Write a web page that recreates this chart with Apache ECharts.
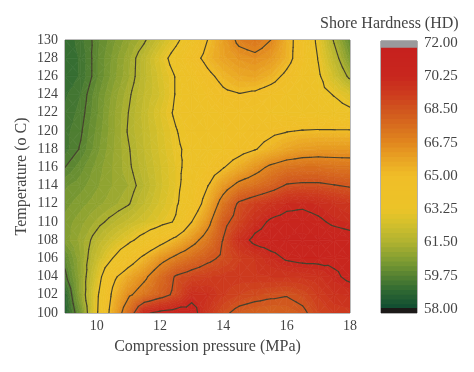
<!DOCTYPE html>
<html>
<head>
<meta charset="utf-8">
<title>Shore hardness contour</title>
<script src="https://cdn.jsdelivr.net/npm/echarts@6/dist/echarts.min.js"></script>
<style>
    html, body { margin: 0; background: #fff; }
    #chart { width: 474px; height: 372px; }
</style>
</head>
<body>
<div id="chart"></div>
<script>
    var pressures = [9, 9.5, 10, 10.5, 11, 11.5, 12, 12.5, 13, 13.5, 14, 14.5, 15, 15.5, 16, 16.5, 17, 17.5, 18];
    var temperatures = [130, 128, 126, 124, 122, 120, 118, 116, 114, 112, 110, 108, 106, 104, 102, 100];
    // hardness, one row per temperature, one column per pressure
    var hardness = [
        [59.0, 59.4, 59.9, 60.4, 60.9, 61.4, 62.2, 63.0, 64.0, 65.0, 66.0, 67.0, 67.3, 66.75, 65.5, 64.3, 63.0, 61.4, 60.0],
        [59.0, 59.3, 59.95, 60.55, 61.15, 61.9, 62.8, 63.7, 64.6, 65.3, 65.9, 66.3, 66.5, 66.2, 65.4, 64.35, 63.2, 61.9, 60.5],
        [59.0, 59.3, 59.95, 60.6, 61.2, 61.9, 62.6, 63.3, 64.0, 64.75, 65.3, 65.7, 65.8, 65.4, 64.75, 64.05, 63.4, 62.4, 61.3],
        [59.2, 59.5, 60.15, 60.8, 61.4, 62.0, 62.5, 63.3, 63.8, 64.3, 64.8, 64.95, 64.8, 64.5, 64.2, 63.9, 63.6, 63.2, 62.7],
        [59.3, 59.6, 60.2, 60.9, 61.5, 62.1, 62.75, 63.4, 63.8, 64.1, 64.3, 64.4, 64.3, 64.2, 64.1, 64.0, 63.9, 63.7, 63.5],
        [59.4, 59.7, 60.3, 60.9, 61.55, 62.05, 62.6, 63.2, 63.7, 64.0, 64.2, 64.4, 64.6, 64.8, 64.95, 65.05, 65.1, 65.1, 65.1],
        [59.4, 59.8, 60.4, 60.95, 61.45, 62.0, 62.55, 63.1, 63.5, 63.9, 64.25, 64.6, 64.95, 65.35, 65.8, 66.1, 66.2, 66.2, 66.2],
        [59.75, 60.15, 60.6, 61.0, 61.4, 61.9, 62.45, 63.0, 63.65, 64.3, 64.95, 65.6, 66.3, 67.0, 67.4, 67.5, 67.5, 67.4, 67.35],
        [60.2, 60.4, 60.7, 61.0, 61.25, 61.75, 62.4, 63.0, 63.85, 64.95, 66.2, 67.1, 67.5, 68.0, 68.6, 68.7, 68.7, 68.55, 68.4],
        [60.4, 60.65, 60.9, 61.15, 61.45, 62.0, 62.55, 63.1, 64.1, 65.55, 67.35, 68.7, 69.2, 69.6, 70.0, 70.1, 69.95, 69.7, 69.5],
        [60.6, 60.9, 61.3, 61.7, 62.1, 62.5, 62.9, 63.35, 65.0, 66.35, 68.2, 69.0, 69.85, 70.4, 70.6, 70.6, 70.4, 70.1, 69.95],
        [60.6, 61.1, 61.75, 62.4, 63.0, 63.7, 64.5, 65.35, 66.3, 67.3, 68.55, 69.8, 70.5, 70.7, 70.8, 70.85, 70.85, 70.75, 70.6],
        [59.95, 61.0, 62.15, 63.25, 64.3, 65.3, 66.3, 67.05, 67.65, 68.25, 68.7, 69.2, 69.5, 69.95, 70.35, 70.5, 70.5, 70.45, 70.5],
        [59.6, 60.95, 62.6, 64.7, 65.7, 66.5, 67.6, 68.6, 69.0, 69.2, 69.35, 69.4, 69.45, 69.5, 69.5, 69.55, 69.7, 70.1, 70.45],
        [58.9, 60.9, 63.0, 65.2, 66.55, 67.35, 68.05, 68.75, 69.9, 69.8, 69.3, 69.0, 68.8, 68.65, 68.55, 68.8, 69.3, 69.7, 69.8],
        [58.7, 60.35, 63.1, 65.55, 67.6, 70.1, 70.5, 70.7, 70.7, 69.5, 68.7, 68.2, 68.0, 67.95, 68.05, 68.3, 68.95, 69.3, 69.4]
    ];
    var xTicks = [10, 12, 14, 16, 18];
    var barTicks = [58, 59.75, 61.5, 63.25, 65, 66.75, 68.5, 70.25, 72];
    // contour lines sit on the colour bar labels between the two ends
    var lineLevels = [59.75, 61.5, 63.25, 65, 66.75, 68.5, 70.25];
    // colour ramp, value and rgb
    var rampValues = [58, 59, 59.75, 60.5, 61.5, 62.5, 63.25, 65, 66, 66.75, 67.6, 68.5, 69.3, 70.25, 72];
    var rampColors = [
        [15, 75, 50], [48, 106, 50], [85, 130, 50], [125, 155, 50], [175, 178, 48],
        [212, 192, 44], [236, 195, 40], [240, 190, 40], [232, 160, 35], [225, 135, 30],
        [216, 110, 30], [208, 85, 30], [205, 60, 30], [200, 38, 30], [198, 32, 30]
    ];
    var bandStep = 0.25;
    var barBelow = 57.79, barAbove = 72.105;

    var serif = '"Liberation Serif", serif';
    var textColor = '#444';

    function rampColor(v) {
        var i = 0;
        while (i < rampValues.length - 2 && v > rampValues[i + 1]) i++;
        var t = (v - rampValues[i]) / (rampValues[i + 1] - rampValues[i]);
        t = Math.max(0, Math.min(1, t));
        var a = rampColors[i], b = rampColors[i + 1];
        return 'rgb(' + Math.round(a[0] + (b[0] - a[0]) * t) + ',' +
            Math.round(a[1] + (b[1] - a[1]) * t) + ',' +
            Math.round(a[2] + (b[2] - a[2]) * t) + ')';
    }

    var bands = [];
    for (var b = 0; b < 56; b++) {
        bands.push([58 + b * bandStep, 58 + (b + 1) * bandStep]);
    }

    // one item per grid cell, the cell's corner indexes are kept with it
    var cells = [];
    for (var r = 0; r < temperatures.length - 1; r++) {
        for (var c = 0; c < pressures.length - 1; c++) {
            cells.push([pressures[c], temperatures[r], hardness[r][c], c, r]);
        }
    }

    // four triangles round the middle of a cell, points are [pressure, temperature, hardness]
    function cellTriangles(c, r) {
        var a = [pressures[c], temperatures[r], hardness[r][c]];
        var b = [pressures[c + 1], temperatures[r], hardness[r][c + 1]];
        var d = [pressures[c + 1], temperatures[r + 1], hardness[r + 1][c + 1]];
        var e = [pressures[c], temperatures[r + 1], hardness[r + 1][c]];
        var m = [(a[0] + b[0]) / 2, (a[1] + e[1]) / 2, (a[2] + b[2] + d[2] + e[2]) / 4];
        return [[a, b, m], [b, d, m], [d, e, m], [e, a, m]];
    }

    function cross(p, q, level) {
        var t = (level - p[2]) / (q[2] - p[2]);
        return [p[0] + (q[0] - p[0]) * t, p[1] + (q[1] - p[1]) * t, level];
    }

    function clip(poly, level, keepAbove) {
        var out = [];
        for (var i = 0; i < poly.length; i++) {
            var p = poly[i], q = poly[(i + 1) % poly.length];
            var pIn = keepAbove ? p[2] >= level : p[2] <= level;
            var qIn = keepAbove ? q[2] >= level : q[2] <= level;
            if (pIn) out.push(p);
            if (pIn !== qIn) out.push(cross(p, q, level));
        }
        return out;
    }

    function renderBands(params, api) {
        var item = cells[params.dataIndex];
        var children = [];
        cellTriangles(item[3], item[4]).forEach(function (tri) {
            bands.forEach(function (band) {
                var poly = clip(clip(tri, band[0], true), band[1], false);
                if (poly.length < 3) return;
                var color = rampColor((band[0] + band[1]) / 2);
                children.push({
                    type: 'polygon',
                    shape: { points: poly.map(function (p) { return api.coord([p[0], p[1]]); }) },
                    style: { fill: color, stroke: color, lineWidth: 0.7 }
                });
            });
        });
        return { type: 'group', children: children };
    }

    function renderLines(params, api) {
        var item = cells[params.dataIndex];
        var children = [];
        cellTriangles(item[3], item[4]).forEach(function (tri) {
            lineLevels.forEach(function (level) {
                var pts = [];
                for (var i = 0; i < 3; i++) {
                    var p = tri[i], q = tri[(i + 1) % 3];
                    if ((p[2] < level) !== (q[2] < level)) pts.push(cross(p, q, level));
                }
                if (pts.length !== 2) return;
                var s = api.coord([pts[0][0], pts[0][1]]), e = api.coord([pts[1][0], pts[1][1]]);
                children.push({
                    type: 'line',
                    shape: { x1: s[0], y1: s[1], x2: e[0], y2: e[1] },
                    style: { stroke: '#45412e', lineWidth: 1.15, lineCap: 'round' }
                });
            });
        });
        return { type: 'group', children: children };
    }

    // colour bar, one block per band plus the black and grey ends; drawn from the top
    // down and each block runs to the bar's foot so no seam shows between them
    var barBlocks = [[barBelow, barAbove, '#9a9a9c']];
    bands.slice().reverse().forEach(function (band) {
        if (band[1] <= 58.05 || band[0] >= 71.75) return;
        barBlocks.push([barBelow, Math.min(band[1], 71.75), rampColor((band[0] + band[1]) / 2)]);
    });
    barBlocks.push([barBelow, 58.05, '#1c1a18']);

    function renderBar(params, api) {
        var block = barBlocks[params.dataIndex];
        var p0 = api.coord([0, block[0]]), p1 = api.coord([1, block[1]]);
        return {
            type: 'rect',
            shape: { x: p0[0], y: p1[1], width: p1[0] - p0[0], height: p0[1] - p1[1] },
            style: { fill: block[2] }
        };
    }

    var chart = echarts.init(document.getElementById('chart'), null, { renderer: 'canvas' });
    chart.setOption({
        animation: false,
        backgroundColor: '#fff',
        title: {
            text: 'Shore Hardness (HD)',
            left: 315, top: 11,
            textStyle: { fontFamily: serif, fontSize: 16, fontWeight: 'normal', color: textColor }
        },
        grid: [
            { left: 65, top: 40, width: 285, height: 273, show: true, borderColor: '#777', borderWidth: 1, backgroundColor: 'transparent' },
            { left: 381, top: 41, width: 36, height: 272, show: true, borderColor: '#666', borderWidth: 1, backgroundColor: 'transparent' }
        ],
        xAxis: [
            {
                type: 'value', gridIndex: 0, min: 9, max: 18,
                name: 'Compression pressure (MPa)', nameLocation: 'middle', nameGap: 26,
                nameTextStyle: { fontFamily: serif, fontSize: 16, color: textColor },
                axisLine: { show: false }, axisTick: { show: false }, splitLine: { show: false },
                axisLabel: { customValues: xTicks, fontFamily: serif, fontSize: 14, color: textColor, margin: 6 }
            },
            { type: 'value', gridIndex: 1, min: 0, max: 1, show: false }
        ],
        yAxis: [
            {
                type: 'value', gridIndex: 0, min: 100, max: 130, interval: 2,
                name: 'Temperature (o C)', nameLocation: 'middle', nameGap: 35, nameMoveOverlap: false,
                nameTextStyle: { fontFamily: serif, fontSize: 16, color: textColor },
                axisLine: { show: false }, axisTick: { show: false }, splitLine: { show: false },
                axisLabel: { fontFamily: serif, fontSize: 14, color: textColor, margin: 7 }
            },
            {
                type: 'value', gridIndex: 1, position: 'right', min: barBelow, max: barAbove,
                axisLine: { show: false }, axisTick: { show: false }, splitLine: { show: false },
                axisLabel: {
                    customValues: barTicks, fontFamily: serif, fontSize: 15, color: textColor, margin: 7,
                    formatter: function (v) { return v.toFixed(2); }
                }
            }
        ],
        series: [
            {
                type: 'custom', xAxisIndex: 0, yAxisIndex: 0, silent: true, z: 2, clip: true,
                renderItem: renderBands, data: cells, encode: { x: 0, y: 1 }
            },
            {
                type: 'custom', xAxisIndex: 0, yAxisIndex: 0, silent: true, z: 3, clip: true,
                renderItem: renderLines, data: cells, encode: { x: 0, y: 1 }
            },
            {
                type: 'custom', xAxisIndex: 1, yAxisIndex: 1, silent: true, z: 2,
                renderItem: renderBar,
                data: barBlocks.map(function (block) { return [0, block[0], block[1]]; }),
                encode: { x: 0, y: [1, 2] }
            }
        ]
    });
</script>
</body>
</html>
